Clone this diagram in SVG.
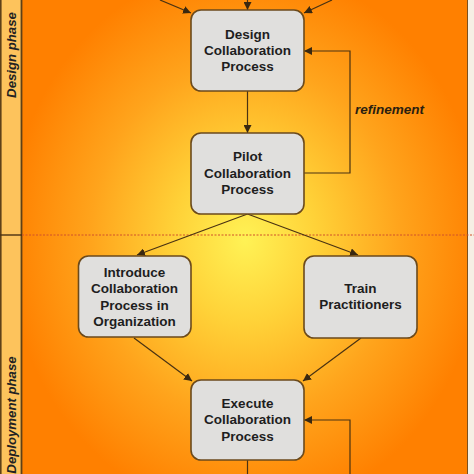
<svg xmlns="http://www.w3.org/2000/svg" width="474" height="474" viewBox="0 0 474 474">
<defs>
<radialGradient id="bg" gradientUnits="userSpaceOnUse" cx="245" cy="240" r="250" gradientTransform="translate(245 240) scale(0.95 1.1) translate(-245 -240)">
<stop offset="0" stop-color="#fff255"/>
<stop offset="0.3" stop-color="#ffd238"/>
<stop offset="0.65" stop-color="#ffa41c"/>
<stop offset="1" stop-color="#ff8000"/>
</radialGradient>
<marker id="ah" viewBox="0 0 10 10" refX="10" refY="5" markerWidth="8" markerHeight="8" markerUnits="userSpaceOnUse" orient="auto">
<path d="M0,0 L10,5 L0,10 z" fill="#3a2810"/>
</marker>
<style>
.node rect{fill:#e0dfdd;stroke:#6b4a1c;stroke-width:1.6}
.node text{font-family:"Liberation Sans",Arial,sans-serif;font-weight:bold;font-size:13.5px;fill:#1e1e1e;text-anchor:middle}
.conn line,.conn polyline{stroke:#4a3212;stroke-width:1.2;fill:none}
.arr{marker-end:url(#ah)}
.phase{font-family:"Liberation Sans",Arial,sans-serif;font-weight:bold;font-style:italic;font-size:13.2px;fill:#222}
</style>
</defs>
<rect x="0" y="0" width="474" height="474" fill="#f6efe4"/>
<rect x="22" y="0" width="446" height="474" fill="url(#bg)"/>
<line x1="467.5" y1="0" x2="467.5" y2="474" stroke="#7a5020" stroke-width="1"/>
<rect x="1" y="0" width="20.5" height="474" fill="#fdc35c"/>
<line x1="0.8" y1="0" x2="0.8" y2="474" stroke="#5e4018" stroke-width="1.6"/>
<line x1="21.5" y1="0" x2="21.5" y2="474" stroke="#5e4018" stroke-width="1.8"/>
<line x1="0" y1="235" x2="22" y2="235" stroke="#4a3010" stroke-width="1.4"/>
<line x1="22" y1="235" x2="474" y2="235" stroke="#d0502a" stroke-width="1" stroke-dasharray="2 1.5"/>
<text class="phase" transform="translate(15.5 55) rotate(-90)" text-anchor="middle">Design phase</text>
<text class="phase" transform="translate(15.5 415) rotate(-90)" text-anchor="middle">Deployment phase</text>

<g id="connectors" class="conn">
<line class="arr" x1="160" y1="0" x2="191" y2="13"/>
<line class="arr" x1="247.5" y1="0" x2="247.5" y2="10"/>
<line class="arr" x1="332" y1="0" x2="304" y2="13"/>
<line class="arr" x1="247.5" y1="91" x2="247.5" y2="133"/>
<polyline class="arr" points="304,173 350,173 350,51 304,51"/>
<line class="arr" x1="247.5" y1="214" x2="137" y2="255"/>
<line class="arr" x1="247.5" y1="214" x2="358" y2="255"/>
<line class="arr" x1="134" y1="338" x2="192" y2="381"/>
<line class="arr" x1="361" y1="338" x2="303" y2="381"/>
<polyline class="arr" points="350,474 350,420 304,420"/>
<line x1="247.5" y1="460" x2="247.5" y2="474"/>
<text x="355" y="114" font-family="'Liberation Sans',Arial,sans-serif" font-weight="bold" font-style="italic" font-size="13.5" fill="#2a1e10">refinement</text>
</g>

<g id="design" class="node">
<rect x="191" y="10" width="113" height="81" rx="10"/>
<text x="247.5" y="38.5">Design</text>
<text x="247.5" y="55">Collaboration</text>
<text x="247.5" y="71">Process</text>
</g>
<g id="pilot" class="node">
<rect x="191" y="133" width="113" height="81" rx="10"/>
<text x="247.5" y="161">Pilot</text>
<text x="247.5" y="177.5">Collaboration</text>
<text x="247.5" y="193.5">Process</text>
</g>
<g id="introduce" class="node">
<rect x="78.5" y="256" width="112.5" height="81" rx="10"/>
<text x="134.5" y="276.5">Introduce</text>
<text x="134.5" y="293">Collaboration</text>
<text x="134.5" y="309.5">Process in</text>
<text x="134.5" y="325.5">Organization</text>
</g>
<g id="train" class="node">
<rect x="304" y="256" width="113" height="82" rx="10"/>
<text x="360.5" y="292.5">Train</text>
<text x="360.5" y="309">Practitioners</text>
</g>
<g id="execute" class="node">
<rect x="191" y="380" width="113" height="80" rx="10"/>
<text x="247.5" y="407.5">Execute</text>
<text x="247.5" y="424">Collaboration</text>
<text x="247.5" y="440.5">Process</text>
</g>
</svg>
